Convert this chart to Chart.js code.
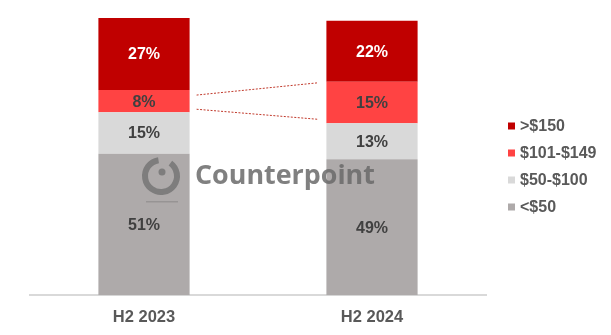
<!DOCTYPE html>
<html lang="en">
<head>
  <meta charset="UTF-8">
  <title>Price Band Share</title>
  <style>
    body { margin: 0; padding: 0; background: #fff; }
    .chart-box { width: 611px; height: 335px; position: relative; }
  </style>
</head>
<body>
  <div class="chart-box">
    <canvas id="bandChart"></canvas>
  </div>

  <script src="https://cdn.jsdelivr.net/npm/chart.js"></script>
  <script>
    // Half-year periods and price-band shares (%)
    const periods = ['H2 2023', 'H2 2024'];
    const bandNames = ['<$50', '$50-$100', '$101-$149', '>$150'];
    const under50 = [51, 49];
    const from50to100 = [15, 13];
    const from101to149 = [8, 15];
    const over150 = [27, 22];

    const bandColors = ['#aeaaaa', '#d9d9d9', '#ff4343', '#c00000'];
    const labelColors = ['#404040', '#404040', '#404040', '#ffffff'];
    const FONT = '"Liberation Sans", Arial, sans-serif';

    const datasets = [under50, from50to100, from101to149, over150].map((vals, i) => ({
      label: bandNames[i],
      data: vals,
      backgroundColor: bandColors[i],
      borderWidth: 0,
      barPercentage: 0.4,
      categoryPercentage: 1.0
    }));

    // Segment labels, connector lines, watermark and legend
    const overlay = {
      id: 'overlay',
      afterDatasetsDraw(chart) {
        const ctx = chart.ctx;
        ctx.save();

        // watermark
        const ring = { x: 161, y: 176, r: 16 };
        ctx.globalAlpha = 0.75;
        ctx.strokeStyle = '#6e6e6e';
        ctx.lineWidth = 6;
        ctx.beginPath();
        ctx.arc(ring.x, ring.y, ring.r, -0.3 * Math.PI, 1.45 * Math.PI, false);
        ctx.stroke();
        ctx.fillStyle = '#6e6e6e';
        ctx.beginPath();
        ctx.arc(ring.x + 1, ring.y - 4, 3.5, 0, Math.PI * 2);
        ctx.fill();
        ctx.globalAlpha = 0.35;
        ctx.fillRect(146, 201, 32, 1.5);
        ctx.globalAlpha = 0.85;
        let size = 30;
        ctx.font = 'bold ' + size + 'px "Open Sans", sans-serif';
        const w = ctx.measureText('Counterpoint').width;
        size = size * 180 / w;
        ctx.font = 'bold ' + size + 'px "Open Sans", sans-serif';
        ctx.fillStyle = '#6a6a6a';
        ctx.textAlign = 'left';
        ctx.textBaseline = 'middle';
        ctx.fillText('Counterpoint', 195, 176);
        ctx.globalAlpha = 1;

        // dotted connectors between the $101-$149 segments
        const seg = chart.getDatasetMeta(2).data;
        const a = seg[0], b = seg[1];
        ctx.strokeStyle = '#c0392b';
        ctx.lineWidth = 1;
        ctx.setLineDash([2, 1.5]);
        const x0 = a.x + a.width / 2 + 7;
        const x1 = b.x - b.width / 2 - 8;
        ctx.beginPath();
        ctx.moveTo(x0, a.y + 5);
        ctx.lineTo(x1, b.y + 1);
        ctx.moveTo(x0, a.base - 3);
        ctx.lineTo(x1, b.base - 4);
        ctx.stroke();
        ctx.setLineDash([]);

        // value labels
        ctx.font = 'bold 16px ' + FONT;
        ctx.textAlign = 'center';
        ctx.textBaseline = 'middle';
        chart.data.datasets.forEach((ds, i) => {
          chart.getDatasetMeta(i).data.forEach((bar, j) => {
            const top = Math.max(bar.y, chart.chartArea.top);
            ctx.fillStyle = labelColors[i];
            ctx.fillText(ds.data[j] + '%', bar.x, (top + bar.base) / 2 + 1);
          });
        });

        // legend, top band first
        ctx.font = 'bold 16px ' + FONT;
        ctx.textAlign = 'left';
        for (let k = 0; k < 4; k++) {
          const i = 3 - k;
          const y = 126 + k * 27;
          ctx.fillStyle = bandColors[i];
          ctx.fillRect(508, y - 3.5, 7, 7);
          ctx.fillStyle = '#595959';
          ctx.fillText(bandNames[i], 520, y + 1);
        }
        ctx.restore();
      }
    };

    new Chart(document.getElementById('bandChart'), {
      type: 'bar',
      data: { labels: periods, datasets: datasets },
      options: {
        responsive: true,
        maintainAspectRatio: false,
        animation: false,
        layout: { padding: { left: 30, right: 125, top: 18, bottom: -4 } },
        plugins: {
          legend: { display: false },
          tooltip: { enabled: false }
        },
        scales: {
          x: {
            stacked: true,
            grid: { display: false, drawTicks: false, tickLength: 0 },
            border: { display: true, color: '#d9d9d9', width: 2 },
            ticks: {
              color: '#595959',
              padding: 12,
              font: { family: FONT, size: 16.5, weight: 'bold' }
            }
          },
          y: {
            stacked: true,
            display: false,
            min: 0,
            max: 100
          }
        }
      },
      plugins: [overlay]
    });
  </script>
</body>
</html>
